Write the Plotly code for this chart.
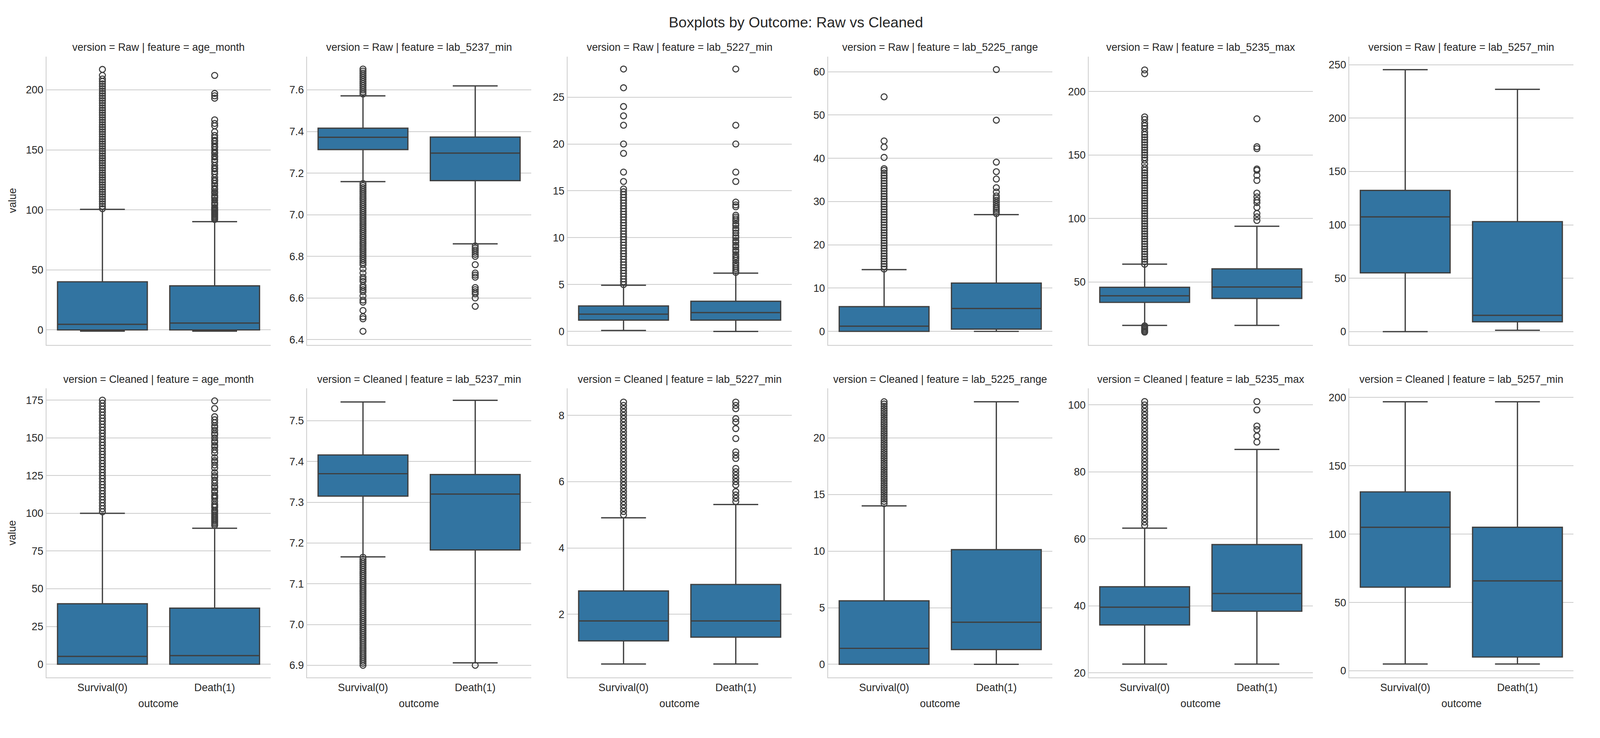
import plotly.graph_objects as go

# ---------------- data ----------------
CATS = ["Survival(0)", "Death(1)"]
FEATURES = ["age_month", "lab_5237_min", "lab_5227_min", "lab_5225_range", "lab_5235_max", "lab_5257_min"]
VERSIONS = ["Raw", "Cleaned"]

# box statistics per feature: [Survival(0), Death(1)]
RAW_LOW = [[-1, -1], [7.159, 6.86], [0.1, 0.0], [0.0, 0.0], [15.9, 15.9], [0.0, 1.3]]
RAW_Q1 = [[0, 0], [7.313, 7.164], [1.21, 1.21], [0.0, 0.54], [34.0, 37.1], [55.1, 9.3]]
RAW_MED = [[4.7, 5.7], [7.372, 7.296], [1.84, 2.01], [1.2, 5.29], [39.2, 46.1], [107.5, 15.3]]
RAW_Q3 = [[40.1, 36.7], [7.416, 7.373], [2.72, 3.22], [5.72, 11.17], [45.9, 60.4], [132.3, 103.1]]
RAW_HIGH = [[100.4, 90.2], [7.571, 7.619], [4.93, 6.22], [14.28, 26.98], [64.1, 93.9], [245.4, 227.0]]

CLEAN_LOW = [[0, 0], [7.166, 6.906], [0.5, 0.5], [0, 0], [22.6, 22.6], [5, 5]]
CLEAN_Q1 = [[0, 0], [7.315, 7.183], [1.2, 1.31], [0, 1.3], [34.3, 38.4], [61.2, 10.1]]
CLEAN_MED = [[5.2, 5.7], [7.37, 7.32], [1.8, 1.8], [1.41, 3.72], [39.6, 43.7], [105.0, 65.8]]
CLEAN_Q3 = [[40.1, 37.2], [7.416, 7.368], [2.705, 2.9], [5.61, 10.13], [45.7, 58.3], [130.9, 105.0]]
CLEAN_HIGH = [[100, 90.1], [7.546, 7.55], [4.91, 5.31], [14.0, 23.2], [63.2, 86.7], [196.8, 196.8]]

# outliers (fliers)
RAW_AGE_S = [101, 103, 105, 107, 109, 111, 113, 115, 117, 119, 121, 123, 125, 127, 129, 131, 133, 135,
             137, 139, 141, 143, 145, 147, 149, 151, 153, 155, 157, 159, 161, 163, 165, 167, 169, 171,
             173, 175, 177, 179, 181, 183, 185, 187, 189, 191, 193, 195, 197, 199, 201, 203, 205, 207,
             209, 212, 217]
RAW_AGE_D = [92, 93, 94, 95, 96, 97, 98, 99, 100, 101, 102, 104, 105, 106, 108, 110, 111, 112, 114, 115,
             117, 118, 120, 122, 124, 125, 127, 130, 132, 134, 135, 137, 140, 142, 144, 145, 147, 148,
             150, 152, 153, 155, 157, 158, 160, 162, 165, 170, 172, 175, 193, 195, 197, 212]
RAW_5237_S = [7.58, 7.59, 7.60, 7.61, 7.62, 7.63, 7.64, 7.65, 7.66, 7.67, 7.68, 7.69, 7.70,
              7.15, 7.14, 7.13, 7.12, 7.11, 7.10, 7.09, 7.08, 7.07, 7.06, 7.05, 7.04, 7.03, 7.02, 7.01,
              7.00, 6.99, 6.98, 6.97, 6.96, 6.95, 6.94, 6.93, 6.92, 6.91, 6.90, 6.89, 6.88, 6.87, 6.86,
              6.85, 6.84, 6.83, 6.82, 6.81, 6.80, 6.79, 6.78, 6.77, 6.76,
              6.74, 6.72, 6.70, 6.69, 6.68, 6.66, 6.65, 6.64, 6.63, 6.61, 6.59, 6.58, 6.54, 6.51, 6.50, 6.44]
RAW_5237_D = [6.85, 6.84, 6.83, 6.82, 6.81, 6.80, 6.76, 6.72, 6.71, 6.70, 6.65, 6.64, 6.63, 6.62, 6.60, 6.56]
RAW_5227_S = [5.0, 5.3, 5.6, 5.9, 6.2, 6.5, 6.8, 7.1, 7.4, 7.7, 8.0, 8.3, 8.6, 8.9, 9.2, 9.5, 9.8, 10.1,
              10.4, 10.7, 11.0, 11.3, 11.6, 11.9, 12.2, 12.5, 12.8, 13.1, 13.4, 13.7, 14.0, 14.3, 14.6,
              14.9, 15.2, 16, 17, 19, 20, 22, 23, 24, 26, 28]
RAW_5227_D = [6.3, 6.5, 6.7, 6.9, 7.1, 7.3, 7.6, 7.8, 8.0, 8.2, 8.5, 8.7, 9.0, 9.2, 9.5, 9.7, 10.0, 10.2,
              10.5, 10.8, 11.0, 11.3, 11.5, 11.8, 12.0, 12.2, 12.4, 13.3, 13.5, 13.8, 16, 17, 20, 22, 28]
RAW_5225_S = [14.4, 15.0, 15.6, 16.2, 16.8, 17.4, 18.0, 18.6, 19.2, 19.8, 20.4, 21.0, 21.6, 22.2, 22.8,
              23.4, 24.0, 24.6, 25.2, 25.8, 26.4, 27.0, 27.6, 28.2, 28.8, 29.4, 30.0, 30.6, 31.2, 31.8,
              32.4, 33.0, 33.6, 34.2, 34.8, 35.4, 36.0, 36.6, 37.2, 37.6, 40.2, 42.6, 44.0, 54.2]
RAW_5225_D = [27.2, 27.6, 28.0, 28.4, 28.8, 29.3, 29.8, 30.3, 30.8, 31.3, 32.2, 33.2, 35.2, 36.9, 39.1,
              48.8, 60.5]
RAW_5235_S = [10.6, 11.5, 12.5, 13.5, 14.5, 15.5,
              64, 66, 68, 70, 72, 74, 76, 78, 80, 82, 84, 86, 88, 90, 92, 94, 96, 98, 100, 102, 104, 106,
              108, 110, 112, 114, 116, 118, 120, 122, 124, 126, 128, 130, 132, 134, 136, 138, 140, 143,
              146, 148, 150, 152, 154, 156, 158, 160, 162, 164, 166, 168, 171, 173, 175, 178, 180, 214, 217]
RAW_5235_D = [98.5, 101.3, 104, 108.8, 112.5, 114.3, 117, 120, 130, 134, 138, 139, 155, 156.5, 178.5]
RAW_5257_S = []
RAW_5257_D = []

CLEAN_AGE_S = [101, 103, 105, 107, 109, 111, 113, 115, 117, 119, 121, 123, 125, 127, 129, 131, 133, 135,
               137, 139, 141, 143, 145, 147, 149, 151, 153, 155, 157, 159, 161, 163, 165, 167, 169, 171,
               173, 175]
CLEAN_AGE_D = [92, 93, 94, 95, 96, 97, 98, 99, 100, 101, 102, 104, 105, 106, 108, 110, 111, 112, 114, 115,
               117, 118, 120, 122, 124, 125, 127, 130, 132, 134, 135, 137, 140, 142, 144, 145, 147, 148,
               150, 152, 153, 155, 157, 158, 160, 162, 164, 169.5, 174.5]
CLEAN_5237_S = [7.165, 7.160, 7.155, 7.150, 7.145, 7.140, 7.135, 7.130, 7.125, 7.120, 7.115, 7.110,
                7.105, 7.100, 7.095, 7.090, 7.085, 7.080, 7.075, 7.070, 7.065, 7.060, 7.055, 7.050,
                7.045, 7.040, 7.035, 7.030, 7.025, 7.020, 7.015, 7.010, 7.005, 7.000, 6.995, 6.990,
                6.985, 6.980, 6.975, 6.970, 6.965, 6.960, 6.955, 6.950, 6.945, 6.940, 6.935, 6.930,
                6.925, 6.920, 6.915, 6.910, 6.905, 6.900]
CLEAN_5237_D = [6.90]
CLEAN_5227_S = [5.0, 5.1, 5.2, 5.3, 5.4, 5.5, 5.6, 5.7, 5.8, 5.9, 6.0, 6.1, 6.2, 6.3, 6.4, 6.5, 6.6, 6.7,
                6.8, 6.9, 7.0, 7.1, 7.2, 7.3, 7.4, 7.5, 7.6, 7.7, 7.8, 7.9, 8.0, 8.1, 8.2, 8.3, 8.4]
CLEAN_5227_D = [5.4, 5.5, 5.6, 5.7, 5.9, 6.0, 6.1, 6.2, 6.3, 6.4, 6.7, 6.8, 6.9, 7.3, 7.6, 7.8, 7.9,
                8.2, 8.3, 8.4]
CLEAN_5225_S = [14.2, 14.4, 14.6, 14.8, 15.0, 15.2, 15.4, 15.6, 15.8, 16.0, 16.2, 16.4, 16.6, 16.8, 17.0,
                17.2, 17.4, 17.6, 17.8, 18.0, 18.2, 18.4, 18.6, 18.8, 19.0, 19.2, 19.4, 19.6, 19.8, 20.0,
                20.2, 20.4, 20.6, 20.8, 21.0, 21.2, 21.4, 21.6, 21.8, 22.0, 22.2, 22.4, 22.6, 22.8, 23.0,
                23.2]
CLEAN_5225_D = []
CLEAN_5235_S = [64, 65, 66, 67, 68, 69, 70, 71, 72, 73, 74, 75, 76, 77, 78, 79, 80, 81, 82, 83, 84, 85,
                86, 87, 88, 89, 90, 91, 92, 93, 94, 95, 96, 97, 98, 99, 100, 101]
CLEAN_5235_D = [88.9, 90.7, 92.6, 93.7, 98.5, 101.0]
CLEAN_5257_S = []
CLEAN_5257_D = []

RAW_OUT = [(RAW_AGE_S, RAW_AGE_D), (RAW_5237_S, RAW_5237_D), (RAW_5227_S, RAW_5227_D),
           (RAW_5225_S, RAW_5225_D), (RAW_5235_S, RAW_5235_D), (RAW_5257_S, RAW_5257_D)]
CLEAN_OUT = [(CLEAN_AGE_S, CLEAN_AGE_D), (CLEAN_5237_S, CLEAN_5237_D), (CLEAN_5227_S, CLEAN_5227_D),
             (CLEAN_5225_S, CLEAN_5225_D), (CLEAN_5235_S, CLEAN_5235_D), (CLEAN_5257_S, CLEAN_5257_D)]

# axis settings
RAW_YRANGE = [[-12.4, 227.7], [6.375, 7.76], [-1.43, 29.33], [-3.1, 63.5], [0.6, 227.5], [-12.3, 257.7]]
CLEAN_YRANGE = [[-8.8, 182.7], [6.87, 7.579], [0.093, 8.81], [-1.17, 24.37], [18.6, 104.9], [-4.9, 206.5]]
RAW_DTICK = [50, 0.2, 5, 10, 50, 50]
CLEAN_DTICK = [25, 0.1, 2, 5, 20, 50]
TICKFMT = ["", ".1f", "", "", "", ""]

# ---------------- styling / layout ----------------
W, H = 6358, 1889
XL = [184 + i * 1035.4 for i in range(6)]
PW = 892
ROW_TOP = [145, 996]
ROW_BOT = [884, 1737]

FILL = "#3274a1"
LINE = "#3f3f3f"
GRID = "#cccccc"
TXT = "#262626"
FONT = "Liberation Sans, Arial, sans-serif"
FS = 41.7

stats = {
    "Raw": (RAW_LOW, RAW_Q1, RAW_MED, RAW_Q3, RAW_HIGH, RAW_OUT, RAW_YRANGE, RAW_DTICK),
    "Cleaned": (CLEAN_LOW, CLEAN_Q1, CLEAN_MED, CLEAN_Q3, CLEAN_HIGH, CLEAN_OUT, CLEAN_YRANGE, CLEAN_DTICK),
}

fig = go.Figure()
layout = {}
annotations = []

for r, ver in enumerate(VERSIONS):
    LOW, Q1, MED, Q3, HIGH, OUT, YR, DT = stats[ver]
    for c, feat in enumerate(FEATURES):
        n = r * 6 + c + 1
        xa, ya = f"x{n}", f"y{n}"
        for k, cat in enumerate(CATS):
            fig.add_trace(go.Box(
                x=[cat], q1=[Q1[c][k]], median=[MED[c][k]], q3=[Q3[c][k]],
                lowerfence=[LOW[c][k]], upperfence=[HIGH[c][k]],
                boxpoints=False, width=0.8, whiskerwidth=0.5,
                fillcolor=FILL, line=dict(color=LINE, width=4),
                xaxis=xa, yaxis=ya, showlegend=False, hoverinfo="skip"))
        for k, cat in enumerate(CATS):
            vals = OUT[c][k]
            if vals:
                fig.add_trace(go.Scatter(
                    x=[cat] * len(vals), y=vals, mode="markers",
                    marker=dict(symbol="circle-open", size=19, color=LINE, line=dict(width=3.5, color=LINE)),
                    xaxis=xa, yaxis=ya, showlegend=False, hoverinfo="skip"))

        x0 = XL[c] / W
        x1 = (XL[c] + PW) / W
        y0 = 1 - ROW_BOT[r] / H
        y1 = 1 - ROW_TOP[r] / H
        layout[f"xaxis{n}"] = dict(
            domain=[x0, x1], anchor=ya, type="category", categoryorder="array", categoryarray=CATS,
            range=[-0.5, 1.5], showline=True, linecolor=GRID, linewidth=3, showgrid=False,
            zeroline=False, ticks="", showticklabels=(r == 1), ticklabelstandoff=18,
            tickfont=dict(family=FONT, size=FS, color=TXT))
        layout[f"yaxis{n}"] = dict(
            domain=[y0, y1], anchor=xa, range=YR[c], tick0=0, dtick=DT[c], tickformat=TICKFMT[c],
            showgrid=True, gridcolor=GRID, gridwidth=3, showline=True, linecolor=GRID, linewidth=3,
            zeroline=False, ticks="", ticklabelstandoff=24,
            tickfont=dict(family=FONT, size=FS, color=TXT))
        annotations.append(dict(
            text=f"version = {ver} | feature = {feat}", x=(x0 + x1) / 2, y=y1, xref="paper", yref="paper",
            xanchor="center", yanchor="middle", yshift=37, showarrow=False,
            font=dict(family=FONT, size=FS, color=TXT)))
        if r == 1:
            annotations.append(dict(
                text="outcome", x=(x0 + x1) / 2, y=y0, xref="paper", yref="paper",
                xanchor="center", yanchor="middle", yshift=-(1840 - ROW_BOT[1]), showarrow=False,
                font=dict(family=FONT, size=FS, color=TXT)))
    annotations.append(dict(
        text="value", x=XL[0] / W, y=1 - (ROW_TOP[r] + ROW_BOT[r]) / 2 / H, xref="paper", yref="paper",
        xanchor="center", yanchor="middle", xshift=-(XL[0] - 49), textangle=-90, showarrow=False,
        font=dict(family=FONT, size=FS, color=TXT)))

annotations.append(dict(
    text="Boxplots by Outcome: Raw vs Cleaned", x=3163 / W, y=1 - 57 / H, xref="paper", yref="paper",
    xanchor="center", yanchor="middle", showarrow=False, font=dict(family=FONT, size=58.3, color=TXT)))

fig.update_layout(
    width=W, height=H, autosize=False, margin=dict(l=0, r=0, t=0, b=0),
    paper_bgcolor="white", plot_bgcolor="white", boxmode="overlay",
    annotations=annotations, font=dict(family=FONT, color=TXT), **layout)

# If the browser viewport is not 6358x1889 CSS px (e.g. device pixel ratio != 1),
# re-draw the same figure so it fills the viewport, scaling pixel-based sizes.
FIT_JS = """
(function(){
  document.documentElement.style.margin='0';
  document.body.style.margin='0';
  document.body.style.overflow='hidden';
  var gd = document.getElementById('{plot_id}');
  var vw = window.innerWidth, vh = window.innerHeight;
  var zx = vw / %d, zy = vh / %d;
  if (Math.abs(zx - 1) < 0.002 && Math.abs(zy - 1) < 0.002) { return; }
  var ft = Math.min(zx, zy), fm = Math.sqrt(zx * zy);
  function walk(o, pk) {
    if (Array.isArray(o)) { for (var i = 0; i < o.length; i++) { if (o[i] && typeof o[i] === 'object') walk(o[i], pk); } return; }
    for (var k in o) {
      var v = o[k];
      if (v && typeof v === 'object') { walk(v, k); continue; }
      if (typeof v !== 'number') continue;
      if (pk === 'font' || pk === 'tickfont') { if (k === 'size') o[k] = v * ft; }
      else if (pk === 'marker') { if (k === 'size') o[k] = v * fm; }
      else if (pk === 'line') { if (k === 'width') o[k] = v * fm; }
      else if (k === 'ticklabelstandoff' || k === 'yshift' || k === 'xshift') { o[k] = v * ft; }
      else if (k === 'gridwidth' || k === 'linewidth') { o[k] = v * fm; }
    }
  }
  try {
    var data = JSON.parse(JSON.stringify(gd.data));
    var lay = JSON.parse(JSON.stringify(gd.layout));
    walk(data, ''); walk(lay, '');
    lay.width = vw; lay.height = vh;
    Plotly.newPlot(gd, data, lay, {displayModeBar: false, responsive: false});
  } catch (e) { document.body.style.zoom = zx; }
})();
""" % (W, H)

fig.write_html("out.html", post_script=FIT_JS, config={"displayModeBar": False})
